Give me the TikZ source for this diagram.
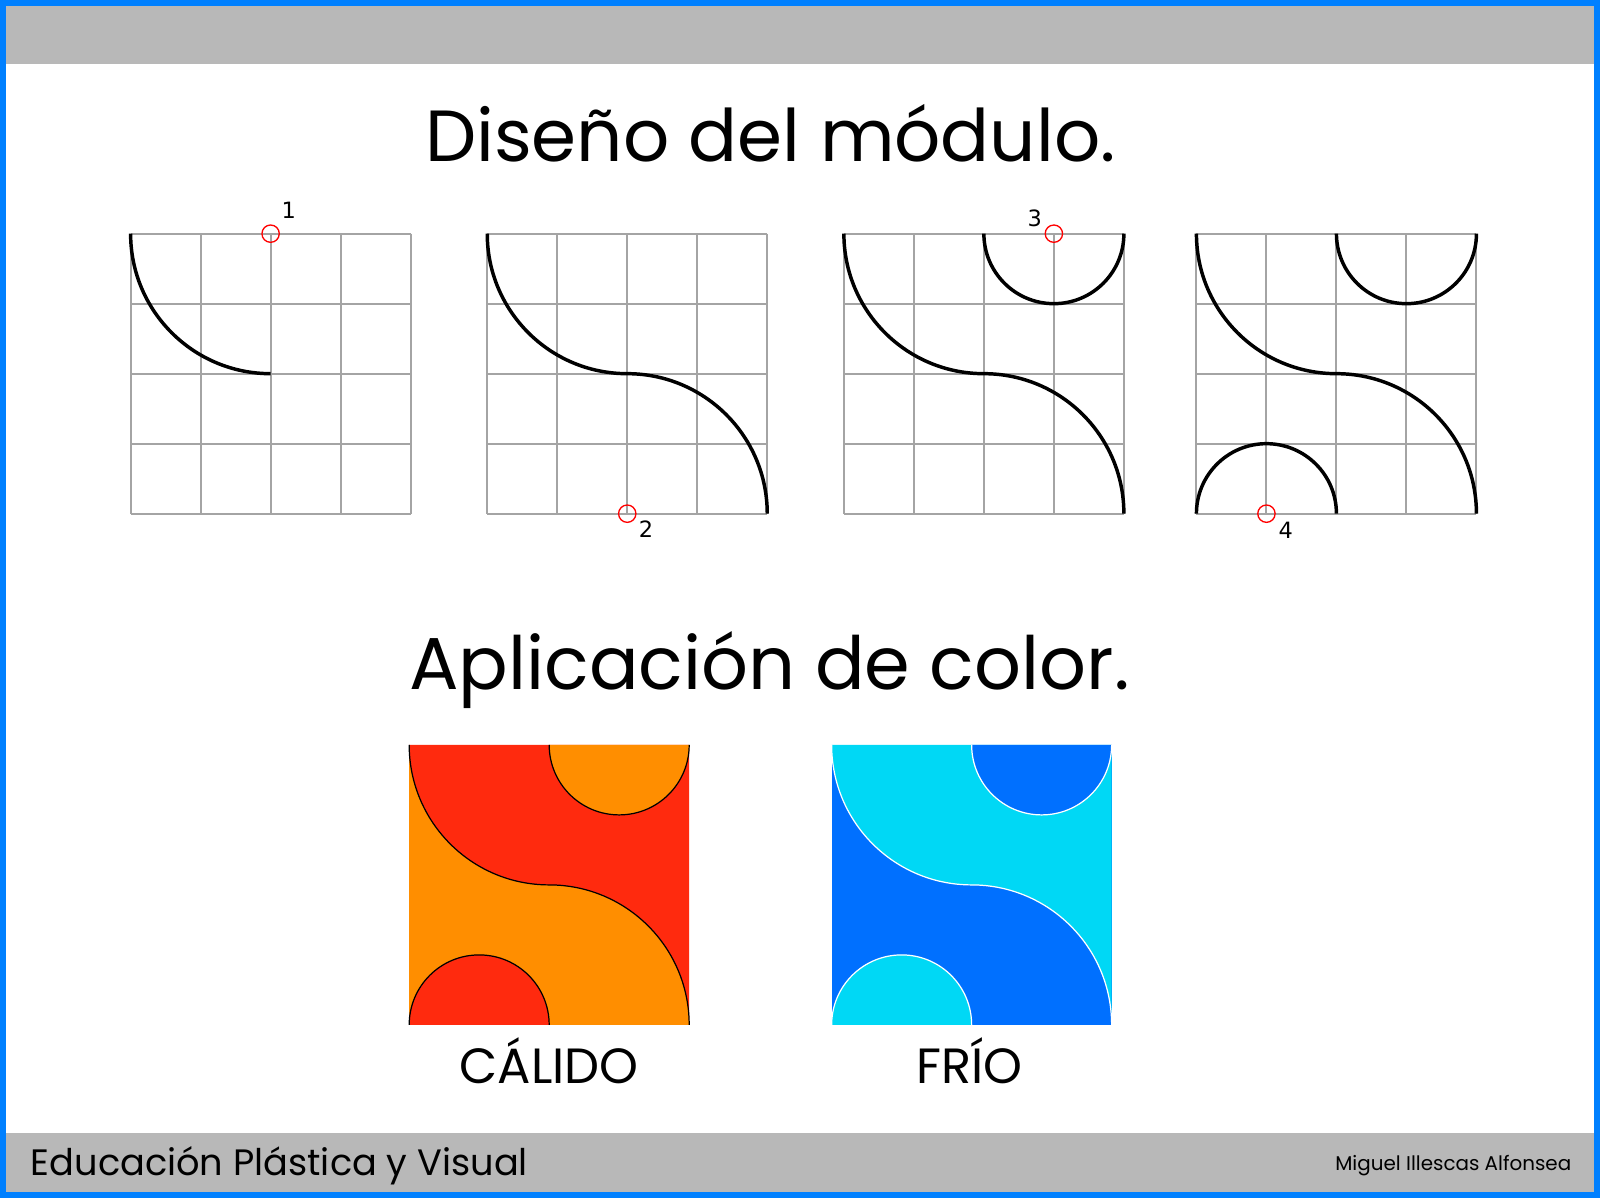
\documentclass[tikz,border=0pt]{standalone}
\usepackage{fontspec}
\setmainfont{Poppins}
\newfontfamily\numfont{DejaVu Sans}
\definecolor{frameblue}{HTML}{0080FF}
\definecolor{bargrey}{HTML}{B8B8B8}
\definecolor{gridgrey}{HTML}{A4A4A4}
\definecolor{warmred}{HTML}{FF2A0E}
\definecolor{warmorange}{HTML}{FF8E00}
\definecolor{coldcyan}{HTML}{00D8F5}
\definecolor{coldblue}{HTML}{0070FF}
\newcommand\drawtile[5]{%
  \fill[#3] (#1,#2) rectangle ++(274.4,274.4);
  \fill[#4] (#1,#2) arc[start angle=180,end angle=90,radius=137.2]
      arc[start angle=270,end angle=360,radius=137.2] -- ++(0,-274.4) -- cycle;
  \fill[#3] (#1+137.2,#2) arc[start angle=180,end angle=0,radius=68.6] -- cycle;
  \fill[#4] (#1,#2+274.4) arc[start angle=180,end angle=360,radius=68.6] -- cycle;
  \draw[tileline,#5] (#1,#2) arc[start angle=180,end angle=90,radius=137.2]
      arc[start angle=270,end angle=360,radius=137.2];
  \draw[tileline,#5] (#1+137.2,#2) arc[start angle=180,end angle=0,radius=68.6];
  \draw[tileline,#5] (#1,#2+274.4) arc[start angle=180,end angle=360,radius=68.6];
}
\begin{document}
\begin{tikzpicture}[x=1pt,y=-1pt,
  gridline/.style={draw=gridgrey,line width=1.9pt},
  curve/.style={draw=black,line width=3.4pt},
  tileline/.style={line width=1.2pt},
  marker/.style={circle,draw=red,line width=1.3pt,minimum size=17pt,inner sep=0pt},
  numlabel/.style={font=\numfont\fontsize{22}{22}\selectfont,inner sep=0pt},
  title/.style={font=\fontsize{71}{71}\selectfont,anchor=base,inner sep=0pt},
  caption/.style={font=\fontsize{48.5}{48.5}\selectfont,anchor=base,inner sep=0pt}]
\useasboundingbox (0,0) rectangle (1568,1174);
\fill[frameblue] (0,0) rectangle (1568,1174);
\fill[white] (6,6) rectangle (1562,1168);
\fill[bargrey] (6,6) rectangle (1562,63);
\fill[bargrey] (6,1110) rectangle (1562,1168);

\node[title] (t1) at (755,158) {Diseño del módulo.};
\node[title,font=\fontsize{72}{72}\selectfont] (t2) at (754,676) {Aplicación de color.};

\def\s{68.6}
\foreach \gx in {128,477.5,827,1172.5}{
  \foreach \i in {0,...,4}{
    \draw[gridline] (\gx+\i*\s,229) -- (\gx+\i*\s,229+4*\s);
    \draw[gridline] (\gx,229+\i*\s) -- (\gx+4*\s,229+\i*\s);
  }
}
% grid 1
\draw[curve] (128,229) arc[start angle=180,end angle=90,radius=137.2];
% grid 2
\draw[curve] (477.5,229) arc[start angle=180,end angle=90,radius=137.2]
   arc[start angle=270,end angle=360,radius=137.2];
% grid 3
\draw[curve] (827,229) arc[start angle=180,end angle=90,radius=137.2]
   arc[start angle=270,end angle=360,radius=137.2];
\draw[curve] (827+2*\s,229) arc[start angle=180,end angle=0,radius=68.6];
% grid 4
\draw[curve] (1172.5,229) arc[start angle=180,end angle=90,radius=137.2]
   arc[start angle=270,end angle=360,radius=137.2];
\draw[curve] (1172.5+2*\s,229) arc[start angle=180,end angle=0,radius=68.6];
\draw[curve] (1172.5,229+4*\s) arc[start angle=180,end angle=360,radius=68.6];

\node[marker] (m1) at (265.2,229) {};
\node[marker] (m2) at (614.7,503.4) {};
\node[marker] (m3) at (1032.8,229) {};
\node[marker] (m4) at (1241.1,503.4) {};
\node[numlabel] (n1) at (283,206) {1};
\node[numlabel] (n2) at (633,519) {2};
\node[numlabel] (n3) at (1014,214) {3};
\node[numlabel] (n4) at (1260,520) {4};

\drawtile{401}{730}{warmorange}{warmred}{black}
\drawtile{815}{730}{coldblue}{coldcyan}{white}

\node[caption] (c1) at (538,1062) {CÁLIDO};
\node[caption] (c2) at (950,1062) {FRÍO};

\node[font=\fontsize{36}{36}\selectfont,anchor=base west,inner sep=0pt] (foot) at (30,1152) {Educación Plástica y Visual};
\node[font=\fontsize{19.5}{19.5}\selectfont,anchor=base east,inner sep=0pt] (author) at (1540,1147) {Miguel Illescas Alfonsea};
\end{tikzpicture}
\end{document}
